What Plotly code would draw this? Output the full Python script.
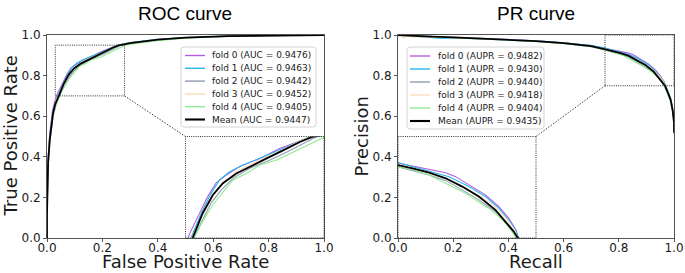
import plotly.graph_objects as go

W, H = 685, 273

# ---------------- data ----------------
ROC_LABELS = ["fold 0 (AUC = 0.9476)", "fold 1 (AUC = 0.9463)", "fold 2 (AUC = 0.9442)",
              "fold 3 (AUC = 0.9452)", "fold 4 (AUC = 0.9405)", "Mean (AUC = 0.9447)"]
PR_LABELS = ["fold 0 (AUPR = 0.9482)", "fold 1 (AUPR = 0.9430)", "fold 2 (AUPR = 0.9440)",
             "fold 3 (AUPR = 0.9418)", "fold 4 (AUPR = 0.9404)", "Mean (AUPR = 0.9435)"]

roc_fpr_0 = [0.0, 0.0, 0.004, 0.010, 0.020, 0.030, 0.0379, 0.0549, 0.0701, 0.0853, 0.1036, 0.1279, 0.1644, 0.2008, 0.2312, 0.2556, 0.30, 0.40, 0.50, 0.65, 0.80, 1.0]
roc_tpr_0 = [0.0, 0.14, 0.40, 0.52, 0.63, 0.685, 0.712, 0.761, 0.802, 0.836, 0.855, 0.876, 0.896, 0.921, 0.937, 0.949, 0.962, 0.978, 0.987, 0.994, 0.998, 1.0]
roc_fpr_1 = [0.0, 0.0, 0.004, 0.010, 0.022, 0.034, 0.0458, 0.061, 0.0762, 0.0914, 0.1096, 0.134, 0.1704, 0.2069, 0.2373, 0.2586, 0.30, 0.40, 0.50, 0.65, 0.80, 1.0]
roc_tpr_1 = [0.0, 0.10, 0.38, 0.50, 0.62, 0.68, 0.720, 0.769, 0.810, 0.843, 0.863, 0.880, 0.900, 0.921, 0.939, 0.951, 0.963, 0.979, 0.988, 0.995, 0.998, 1.0]
roc_fpr_2 = [0.0, 0.0, 0.004, 0.010, 0.022, 0.034, 0.0458, 0.061, 0.0762, 0.0944, 0.1157, 0.1461, 0.1826, 0.213, 0.2434, 0.2647, 0.30, 0.40, 0.50, 0.65, 0.80, 1.0]
roc_tpr_2 = [0.0, 0.12, 0.36, 0.47, 0.60, 0.665, 0.704, 0.745, 0.786, 0.818, 0.847, 0.872, 0.892, 0.912, 0.933, 0.948, 0.958, 0.976, 0.986, 0.994, 0.998, 1.0]
roc_fpr_3 = [0.0, 0.0, 0.004, 0.010, 0.022, 0.032, 0.044, 0.061, 0.0793, 0.0975, 0.1218, 0.1522, 0.1887, 0.2191, 0.2434, 0.2617, 0.30, 0.40, 0.50, 0.65, 0.80, 1.0]
roc_tpr_3 = [0.0, 0.11, 0.37, 0.48, 0.61, 0.672, 0.708, 0.757, 0.802, 0.835, 0.863, 0.884, 0.907, 0.926, 0.943, 0.951, 0.961, 0.978, 0.987, 0.994, 0.998, 1.0]
roc_fpr_4 = [0.0, 0.0, 0.004, 0.010, 0.022, 0.034, 0.0458, 0.061, 0.0793, 0.0975, 0.1157, 0.14, 0.1644, 0.1948, 0.2252, 0.2556, 0.2799, 0.32, 0.40, 0.50, 0.65, 0.80, 1.0]
roc_tpr_4 = [0.0, 0.09, 0.35, 0.47, 0.60, 0.66, 0.700, 0.741, 0.782, 0.814, 0.843, 0.859, 0.880, 0.892, 0.912, 0.933, 0.948, 0.958, 0.972, 0.984, 0.993, 0.997, 1.0]
roc_fpr_mean = [0.0, 0.0, 0.004, 0.010, 0.022, 0.030, 0.0428, 0.061, 0.0793, 0.0975, 0.1218, 0.146, 0.1765, 0.207, 0.2373, 0.2586, 0.30, 0.40, 0.50, 0.65, 0.80, 1.0]
roc_tpr_mean = [0.0, 0.12, 0.37, 0.484, 0.616, 0.66, 0.700, 0.761, 0.806, 0.835, 0.859, 0.876, 0.896, 0.9165, 0.937, 0.949, 0.960, 0.977, 0.987, 0.994, 0.998, 1.0]

pr_rec_0 = [0.0, 0.05, 0.10, 0.20, 0.30, 0.40, 0.50, 0.60, 0.70, 0.7512, 0.7824, 0.8124, 0.8364, 0.8544, 0.8784, 0.9084, 0.9324, 0.9504, 0.9636, 0.9684, 0.979, 0.989, 0.996, 1.0, 1.0]
pr_pre_0 = [1.0, 0.997, 0.994, 0.989, 0.984, 0.978, 0.972, 0.962, 0.948, 0.9338, 0.9257, 0.9175, 0.9109, 0.9011, 0.8807, 0.8562, 0.8276, 0.799, 0.7704, 0.75, 0.716, 0.68, 0.63, 0.575, 0.52]
pr_rec_1 = [0.0, 0.05, 0.10, 0.15, 0.20, 0.30, 0.40, 0.50, 0.60, 0.70, 0.7512, 0.7824, 0.8124, 0.8424, 0.8784, 0.9084, 0.9324, 0.9504, 0.9624, 0.9696, 0.980, 0.990, 0.996, 1.0, 1.0]
pr_pre_1 = [1.0, 0.995, 0.990, 0.984, 0.986, 0.982, 0.977, 0.971, 0.962, 0.948, 0.9355, 0.924, 0.9134, 0.9011, 0.8766, 0.8521, 0.8235, 0.7949, 0.7704, 0.75, 0.72, 0.68, 0.63, 0.58, 0.53]
pr_rec_2 = [0.0, 0.05, 0.10, 0.20, 0.30, 0.40, 0.50, 0.60, 0.70, 0.7512, 0.7764, 0.8064, 0.8364, 0.8664, 0.8964, 0.9264, 0.9474, 0.9612, 0.966, 0.977, 0.987, 0.995, 1.0, 1.0]
pr_pre_2 = [1.0, 0.996, 0.992, 0.987, 0.981, 0.975, 0.968, 0.958, 0.942, 0.9257, 0.9159, 0.9052, 0.8913, 0.8685, 0.844, 0.8154, 0.7868, 0.7623, 0.75, 0.712, 0.675, 0.625, 0.565, 0.51]
pr_rec_3 = [0.0, 0.01, 0.02, 0.035, 0.05, 0.10, 0.20, 0.30, 0.40, 0.50, 0.60, 0.70, 0.7512, 0.7824, 0.8124, 0.8424, 0.8724, 0.9024, 0.9264, 0.9474, 0.9612, 0.9684, 0.979, 0.989, 0.996, 1.0, 1.0]
pr_pre_3 = [0.99, 1.0, 0.986, 0.995, 0.99, 0.992, 0.987, 0.982, 0.976, 0.970, 0.960, 0.945, 0.9314, 0.9208, 0.9093, 0.893, 0.8725, 0.8505, 0.826, 0.7966, 0.7704, 0.75, 0.715, 0.68, 0.63, 0.57, 0.52]
pr_rec_4 = [0.0, 0.05, 0.10, 0.20, 0.30, 0.40, 0.50, 0.60, 0.70, 0.7512, 0.7764, 0.8064, 0.8244, 0.8484, 0.8724, 0.8904, 0.9144, 0.9324, 0.9444, 0.9564, 0.9636, 0.975, 0.986, 0.994, 1.0, 1.0]
pr_pre_4 = [1.0, 0.996, 0.992, 0.987, 0.981, 0.975, 0.968, 0.958, 0.942, 0.9257, 0.9175, 0.9052, 0.893, 0.8766, 0.8603, 0.844, 0.8235, 0.8031, 0.7868, 0.7663, 0.75, 0.715, 0.68, 0.63, 0.57, 0.515]
pr_rec_mean = [0.0, 0.05, 0.10, 0.20, 0.30, 0.40, 0.50, 0.60, 0.70, 0.7512, 0.7764, 0.8064, 0.8364, 0.8664, 0.8964, 0.9264, 0.9444, 0.9594, 0.9672, 0.978, 0.988, 0.995, 1.0, 1.0]
pr_pre_mean = [1.0, 0.996, 0.993, 0.988, 0.983, 0.977, 0.970, 0.960, 0.945, 0.9297, 0.9216, 0.911, 0.8971, 0.8766, 0.8521, 0.8194, 0.7909, 0.7663, 0.75, 0.715, 0.68, 0.63, 0.57, 0.52]

ROC_X = [roc_fpr_0, roc_fpr_1, roc_fpr_2, roc_fpr_3, roc_fpr_4, roc_fpr_mean]
ROC_Y = [roc_tpr_0, roc_tpr_1, roc_tpr_2, roc_tpr_3, roc_tpr_4, roc_tpr_mean]
PR_X = [pr_rec_0, pr_rec_1, pr_rec_2, pr_rec_3, pr_rec_4, pr_rec_mean]
PR_Y = [pr_pre_0, pr_pre_1, pr_pre_2, pr_pre_3, pr_pre_4, pr_pre_mean]

TICKS = [0.0, 0.2, 0.4, 0.6, 0.8, 1.0]
TICK_TEXT = ["0.0", "0.2", "0.4", "0.6", "0.8", "1.0"]

# zoomed windows of the two insets (data coordinates)
ROC_ZOOM_X = [0.03, 0.28]
ROC_ZOOM_Y = [0.70, 0.95]
PR_ZOOM_X = [0.75, 1.0]
PR_ZOOM_Y = [0.75, 1.0]

# ---------------- styles ----------------
COLORS = ["#b35de6", "#27b7ea", "#8e9cb3", "#fbdcb8", "#90eb90", "#000000"]
WIDTHS = [1.1, 1.1, 1.1, 1.1, 1.1, 1.8]
FONT = "DejaVu Sans"
TXT = "#1a1a1a"
FRAME = "#555555"

# pixel layout
ROC_PX = (47, 324)
PR_PX = (398, 674)
Y_PX = (35, 238)


def px_x(p):
    return p / W


def px_y(p):
    return 1 - p / H


main_y_dom = [px_y(Y_PX[1]), px_y(Y_PX[0])]
roc_x_dom = [px_x(ROC_PX[0]), px_x(ROC_PX[1])]
pr_x_dom = [px_x(PR_PX[0]), px_x(PR_PX[1])]


def sub_dom(dom, f0, f1):
    return [dom[0] + (dom[1] - dom[0]) * f0, dom[0] + (dom[1] - dom[0]) * f1]


# inset boxes in axes fraction
ROC_INSET = ([0.5, 1.0], [0.0, 0.5])
PR_INSET = ([0.0, 0.5], [0.0, 0.5])

fig = go.Figure()

for i in range(6):
    for xa, ya in (("x", "y"), ("x3", "y3")):
        fig.add_trace(go.Scatter(x=ROC_X[i], y=ROC_Y[i], mode="lines", xaxis=xa, yaxis=ya,
                                 line=dict(color=COLORS[i], width=WIDTHS[i]), showlegend=False,
                                 hoverinfo="skip"))
    for xa, ya in (("x2", "y2"), ("x4", "y4")):
        fig.add_trace(go.Scatter(x=PR_X[i], y=PR_Y[i], mode="lines", xaxis=xa, yaxis=ya,
                                 line=dict(color=COLORS[i], width=WIDTHS[i]), showlegend=False,
                                 hoverinfo="skip"))

main_axis = dict(range=[0, 1], tickmode="array", tickvals=TICKS, ticktext=TICK_TEXT,
                 ticks="outside", ticklen=3, tickwidth=1, tickcolor=FRAME,
                 showline=True, linecolor=FRAME, linewidth=1, mirror=True,
                 showgrid=False, zeroline=False, automargin=False,
                 tickfont=dict(family=FONT, size=12, color=TXT))
inset_axis = dict(visible=False, showgrid=False, zeroline=False, automargin=False)

fig.update_layout(
    template="none",
    width=W, height=H, margin=dict(l=0, r=0, t=0, b=0, pad=0, autoexpand=False),
    paper_bgcolor="white", plot_bgcolor="white", showlegend=False,
    xaxis=dict(main_axis, domain=roc_x_dom, anchor="y", ticklabelstandoff=-4),
    yaxis=dict(main_axis, domain=main_y_dom, anchor="x"),
    xaxis2=dict(main_axis, domain=pr_x_dom, anchor="y2", ticklabelstandoff=-4),
    yaxis2=dict(main_axis, domain=main_y_dom, anchor="x2"),
    xaxis3=dict(inset_axis, domain=sub_dom(roc_x_dom, *ROC_INSET[0]), range=ROC_ZOOM_X, anchor="y3"),
    yaxis3=dict(inset_axis, domain=sub_dom(main_y_dom, *ROC_INSET[1]), range=ROC_ZOOM_Y, anchor="x3"),
    xaxis4=dict(inset_axis, domain=sub_dom(pr_x_dom, *PR_INSET[0]), range=PR_ZOOM_X, anchor="y4"),
    yaxis4=dict(inset_axis, domain=sub_dom(main_y_dom, *PR_INSET[1]), range=PR_ZOOM_Y, anchor="x4"),
)

DOT = dict(color="#333333", width=1, dash="1px,1.2px")
shapes = []
# inset frames
for ax in ("x3", "x4"):
    yref = "y3" if ax == "x3" else "y4"
    shapes.append(dict(type="rect", xref=ax + " domain", yref=yref + " domain",
                       x0=0, x1=1, y0=0, y1=1, line=DOT, layer="above"))
# zoom rectangles in main axes
shapes.append(dict(type="rect", xref="x", yref="y", x0=ROC_ZOOM_X[0], x1=ROC_ZOOM_X[1],
                   y0=ROC_ZOOM_Y[0], y1=ROC_ZOOM_Y[1], line=DOT, layer="above"))
shapes.append(dict(type="rect", xref="x2", yref="y2", x0=PR_ZOOM_X[0], x1=PR_ZOOM_X[1],
                   y0=PR_ZOOM_Y[0], y1=PR_ZOOM_Y[1], line=DOT, layer="above"))
# connectors (main axes range is [0,1], so axes fractions equal data values)
CONN = dict(color="#444444", width=1, dash="1.5px,1.5px")
shapes.append(dict(type="line", xref="x", yref="y", x0=ROC_ZOOM_X[1], y0=ROC_ZOOM_Y[0],
                   x1=ROC_INSET[0][0], y1=ROC_INSET[1][1], line=CONN, layer="above"))
shapes.append(dict(type="line", xref="x2", yref="y2", x0=PR_ZOOM_X[0], y0=PR_ZOOM_Y[0],
                   x1=PR_INSET[0][1], y1=PR_INSET[1][1], line=CONN, layer="above"))

annotations = []


def add_legend(labels, box_px, line_px, text_px, rows_px):
    x0, x1, y0, y1 = box_px
    r = 3
    X0, X1 = px_x(x0), px_x(x1)
    Y0, Y1 = px_y(y1), px_y(y0)
    rx, ry = r / W, r / H
    path = (f"M{X0+rx},{Y0} L{X1-rx},{Y0} Q{X1},{Y0} {X1},{Y0+ry} L{X1},{Y1-ry} "
            f"Q{X1},{Y1} {X1-rx},{Y1} L{X0+rx},{Y1} Q{X0},{Y1} {X0},{Y1-ry} "
            f"L{X0},{Y0+ry} Q{X0},{Y0} {X0+rx},{Y0} Z")
    shapes.append(dict(type="path", xref="paper", yref="paper", path=path,
                       fillcolor="rgba(255,255,255,0.85)", line=dict(color="#d4d4d4", width=1),
                       layer="above"))
    for i, lab in enumerate(labels):
        yy = px_y(rows_px[i])
        shapes.append(dict(type="line", xref="paper", yref="paper", x0=px_x(line_px[0]),
                           x1=px_x(line_px[1]), y0=yy, y1=yy,
                           line=dict(color=COLORS[i], width=WIDTHS[i] + 0.3), layer="above"))
        annotations.append(dict(text=lab, xref="paper", yref="paper", x=px_x(text_px), y=yy,
                                xanchor="left", yanchor="middle", showarrow=False,
                                font=dict(family=FONT, size=9, color=TXT)))


add_legend(ROC_LABELS, (181, 316, 47, 127), (185, 205), 210,
           [55.5, 68.3, 81.1, 93.9, 106.7, 119.5])
add_legend(PR_LABELS, (407, 544, 47, 129), (410, 430), 436,
           [56, 69, 82, 95, 108, 121])

# titles
for txt, dom in (("ROC curve", roc_x_dom), ("PR curve", pr_x_dom)):
    annotations.append(dict(text=txt, xref="paper", yref="paper", x=(dom[0] + dom[1]) / 2,
                            y=px_y(13), xanchor="center", yanchor="middle", showarrow=False,
                            font=dict(family="Liberation Sans", size=19, color="#000000")))
# axis titles
for txt, dom in (("False Positive Rate", roc_x_dom), ("Recall", pr_x_dom)):
    annotations.append(dict(text=txt, xref="paper", yref="paper", x=(dom[0] + dom[1]) / 2,
                            y=0, xanchor="center", yanchor="bottom", showarrow=False,
                            borderpad=0, font=dict(family=FONT, size=18, color=TXT)))
for txt, xp in (("True Positive Rate", 10), ("Precision", 361)):
    annotations.append(dict(text=txt, xref="paper", yref="paper", x=px_x(xp),
                            y=(main_y_dom[0] + main_y_dom[1]) / 2, xanchor="center",
                            yanchor="middle", textangle=-90, showarrow=False,
                            font=dict(family=FONT, size=18, color=TXT)))

fig.update_layout(shapes=shapes, annotations=annotations)
fig.write_html("out.html", config={"displayModeBar": False},
               post_script="document.body.style.margin='0';document.body.style.padding='0';")
